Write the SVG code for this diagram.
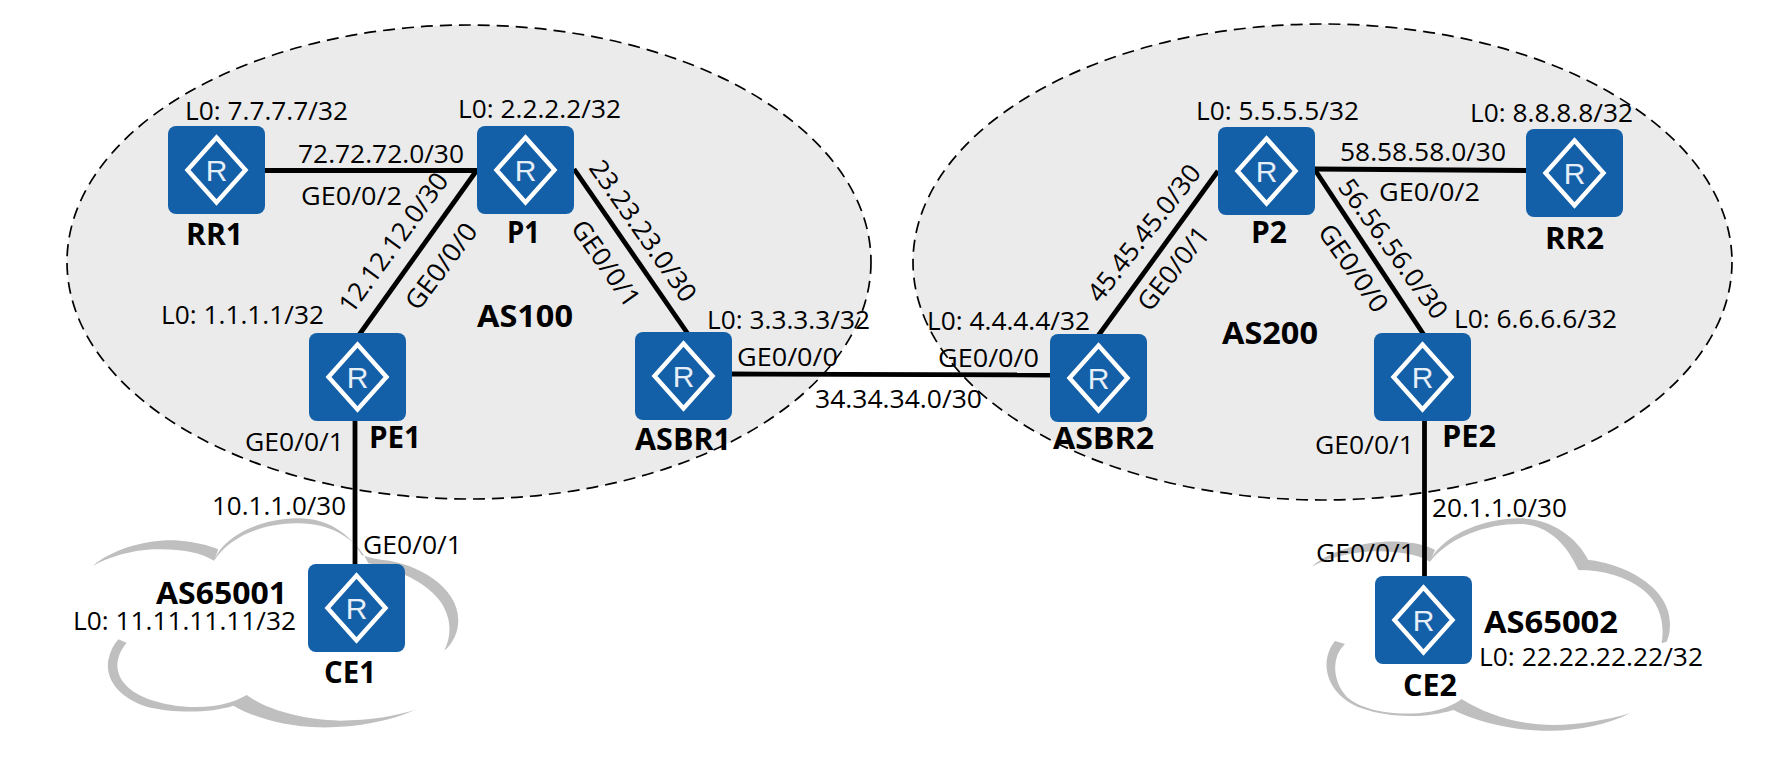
<svg xmlns="http://www.w3.org/2000/svg" width="1771" height="762" viewBox="0 0 1771 762">
<style>
.as{fill:#ebebeb;stroke:#000;stroke-width:1.7;stroke-dasharray:12 7}
.cl{fill:#bfbfbf}
.ln{stroke:#000;stroke-width:4.8;fill:none}
.box{fill:#1460a8}
.dm{fill:none;stroke:#fff;stroke-width:4.4}
.r{font-family:"Liberation Sans",Arial,sans-serif;font-size:30px;fill:#e6eef7;text-anchor:middle}
.t{font-family:"Open Sans","Noto Sans",sans-serif;font-size:26px;fill:#000}
.b{font-family:"Open Sans","Noto Sans",sans-serif;font-size:30px;font-weight:700;fill:#000}
</style>
<defs>
<g id="router">
<rect class="box" width="97" height="88" rx="8"/>
<path class="dm" d="M48.500 11.500L77.500 44L48.500 76.500L19.500 44Z"/>
<text class="r" x="48.500" y="55">R</text>
</g>
</defs>
<rect width="1771" height="762" fill="#fff"/>
<g id="regions">
<ellipse class="as" cx="469" cy="262" rx="402" ry="237"/>
<ellipse class="as" cx="1322.500" cy="262" rx="409.500" ry="238"/>
<path class="cl" transform="matrix(.3333 0 0 .3333 40 480)" d="M158 258C220 205 330 175 420 182C465 186 505 195 535 208L522 242C480 215 410 205 340 208C270 212 210 230 158 258ZM522 242C545 180 640 118 770 115C860 113 930 160 965 225C985 232 1000 236 1030 240C1130 250 1255 320 1255 420C1255 455 1240 490 1213 512C1235 465 1235 420 1205 370C1165 310 1070 265 985 250C950 170 860 128 770 130C660 132 570 170 522 242ZM235 478L260 488C225 530 220 580 262 620C310 665 420 690 520 678C560 672 595 660 620 645C680 690 790 720 900 722C990 722 1070 708 1130 688C1050 725 940 745 830 742C730 738 640 712 580 677C510 700 400 700 320 680C240 655 195 600 205 540C210 515 220 495 235 478Z"/>
<path class="cl" transform="matrix(.3333 0 0 .3333 1290 500)" d="M65 200C120 150 230 120 330 125C370 127 410 135 435 150L420 185C380 160 300 150 230 155C170 160 110 175 65 200ZM420 185C445 120 560 55 690 55C780 55 860 110 895 180C1000 190 1140 260 1140 370C1140 395 1137 410 1130 425L1115 430C1125 370 1110 310 1060 270C1010 230 940 210 865 210C830 130 770 72 690 72C590 72 480 110 420 185ZM135 423L165 432C125 470 125 540 170 590C220 635 330 650 420 635C460 628 490 615 515 597C590 645 690 675 790 675C870 675 950 660 1020 640C950 675 860 695 760 692C660 690 560 665 490 630C410 655 300 655 215 625C130 595 95 520 115 460C120 445 125 435 135 423Z"/>
</g>
<g id="connectors">
<path class="ln" d="M265 170.500H477"/>
<path class="ln" d="M359 335L477 170"/>
<path class="ln" d="M574 169L688 334"/>
<path class="ln" d="M732 374L1050 375"/>
<path class="ln" d="M1098 336L1218 171"/>
<path class="ln" d="M1315 169L1526 170.500"/>
<path class="ln" d="M1315 170L1424 335"/>
<path class="ln" d="M355 421V564"/>
<path class="ln" d="M1424.500 421V576"/>
</g>
<g id="RR1"><use href="#router" x="168" y="126"/><text class="b" x="186" y="245" textLength="57" lengthAdjust="spacingAndGlyphs">RR1</text><text class="t" x="185" y="120" textLength="163" lengthAdjust="spacingAndGlyphs">L0: 7.7.7.7/32</text></g>
<g id="P1"><use href="#router" x="477" y="126"/><text class="b" x="507" y="243" textLength="33" lengthAdjust="spacingAndGlyphs">P1</text><text class="t" x="458" y="118" textLength="163" lengthAdjust="spacingAndGlyphs">L0: 2.2.2.2/32</text></g>
<g id="PE1"><use href="#router" x="309" y="333"/><text class="b" x="369" y="448" textLength="52" lengthAdjust="spacingAndGlyphs">PE1</text><text class="t" x="161" y="324" textLength="163" lengthAdjust="spacingAndGlyphs">L0: 1.1.1.1/32</text></g>
<g id="ASBR1"><use href="#router" x="635" y="332"/><text class="b" x="635" y="450" textLength="96" lengthAdjust="spacingAndGlyphs">ASBR1</text><text class="t" x="707" y="329" textLength="163" lengthAdjust="spacingAndGlyphs">L0: 3.3.3.3/32</text></g>
<g id="ASBR2"><use href="#router" x="1050" y="334"/><text class="b" x="1053" y="449" textLength="101" lengthAdjust="spacingAndGlyphs">ASBR2</text><text class="t" x="927" y="330" textLength="163" lengthAdjust="spacingAndGlyphs">L0: 4.4.4.4/32</text></g>
<g id="P2"><use href="#router" x="1218" y="127"/><text class="b" x="1251" y="243" textLength="36" lengthAdjust="spacingAndGlyphs">P2</text><text class="t" x="1196" y="120" textLength="163" lengthAdjust="spacingAndGlyphs">L0: 5.5.5.5/32</text></g>
<g id="RR2"><use href="#router" x="1526" y="129"/><text class="b" x="1545" y="249" textLength="59" lengthAdjust="spacingAndGlyphs">RR2</text><text class="t" x="1470" y="122" textLength="163" lengthAdjust="spacingAndGlyphs">L0: 8.8.8.8/32</text></g>
<g id="PE2"><use href="#router" x="1374" y="333"/><text class="b" x="1442" y="447" textLength="54" lengthAdjust="spacingAndGlyphs">PE2</text><text class="t" x="1454" y="328" textLength="163" lengthAdjust="spacingAndGlyphs">L0: 6.6.6.6/32</text></g>
<g id="CE1"><use href="#router" x="308" y="564"/><text class="b" x="324" y="683" textLength="52" lengthAdjust="spacingAndGlyphs">CE1</text><text class="t" x="73" y="630" textLength="223" lengthAdjust="spacingAndGlyphs">L0: 11.11.11.11/32</text></g>
<g id="CE2"><use href="#router" x="1375" y="576"/><text class="b" x="1403" y="696" textLength="54" lengthAdjust="spacingAndGlyphs">CE2</text><text class="t" x="1479" y="666" textLength="224" lengthAdjust="spacingAndGlyphs">L0: 22.22.22.22/32</text></g>
<g id="labels">
<text class="b" x="477" y="327" textLength="96" lengthAdjust="spacingAndGlyphs">AS100</text>
<text class="b" x="1222" y="344" textLength="96" lengthAdjust="spacingAndGlyphs">AS200</text>
<text class="b" x="156" y="604" textLength="131" lengthAdjust="spacingAndGlyphs">AS65001</text>
<text class="b" x="1484" y="633" textLength="134" lengthAdjust="spacingAndGlyphs">AS65002</text>
<text class="t" x="298" y="163" textLength="166" lengthAdjust="spacingAndGlyphs">72.72.72.0/30</text>
<text class="t" x="301" y="205" textLength="101" lengthAdjust="spacingAndGlyphs">GE0/0/2</text>
<text class="t" x="1340" y="161" textLength="166" lengthAdjust="spacingAndGlyphs">58.58.58.0/30</text>
<text class="t" x="1379" y="201" textLength="101" lengthAdjust="spacingAndGlyphs">GE0/0/2</text>
<text class="t" x="245" y="451" textLength="99" lengthAdjust="spacingAndGlyphs">GE0/0/1</text>
<text class="t" x="212" y="515" textLength="134" lengthAdjust="spacingAndGlyphs">10.1.1.0/30</text>
<text class="t" x="363" y="554" textLength="99" lengthAdjust="spacingAndGlyphs">GE0/0/1</text>
<text class="t" x="737" y="366" textLength="101" lengthAdjust="spacingAndGlyphs">GE0/0/0</text>
<text class="t" x="938" y="367" textLength="101" lengthAdjust="spacingAndGlyphs">GE0/0/0</text>
<text class="t" x="815" y="408" textLength="167" lengthAdjust="spacingAndGlyphs">34.34.34.0/30</text>
<text class="t" x="1315" y="454" textLength="99" lengthAdjust="spacingAndGlyphs">GE0/0/1</text>
<text class="t" x="1432" y="517" textLength="135" lengthAdjust="spacingAndGlyphs">20.1.1.0/30</text>
<text class="t" x="1316" y="562" textLength="99" lengthAdjust="spacingAndGlyphs">GE0/0/1</text>
<text class="t" transform="translate(352 315) rotate(-54)" textLength="166" lengthAdjust="spacingAndGlyphs">12.12.12.0/30</text>
<text class="t" transform="translate(418 312) rotate(-53)" textLength="101" lengthAdjust="spacingAndGlyphs">GE0/0/0</text>
<text class="t" transform="translate(588 168) rotate(55)" textLength="166" lengthAdjust="spacingAndGlyphs">23.23.23.0/30</text>
<text class="t" transform="translate(570 228) rotate(55)" textLength="99" lengthAdjust="spacingAndGlyphs">GE0/0/1</text>
<text class="t" transform="translate(1100 304) rotate(-52)" textLength="166" lengthAdjust="spacingAndGlyphs">45.45.45.0/30</text>
<text class="t" transform="translate(1150 313) rotate(-52)" textLength="99" lengthAdjust="spacingAndGlyphs">GE0/0/1</text>
<text class="t" transform="translate(1337 187) rotate(54)" textLength="166" lengthAdjust="spacingAndGlyphs">56.56.56.0/30</text>
<text class="t" transform="translate(1317 232) rotate(55)" textLength="101" lengthAdjust="spacingAndGlyphs">GE0/0/0</text>
</g>
</svg>
